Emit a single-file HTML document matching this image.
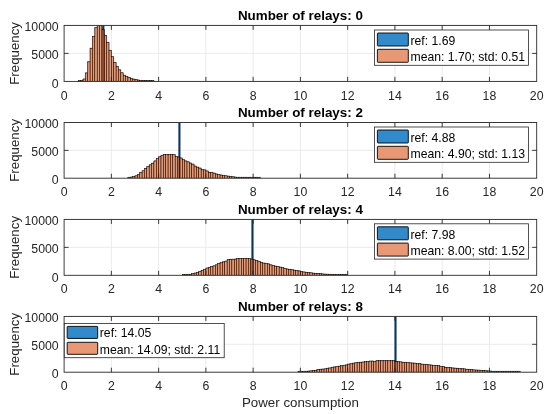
<!DOCTYPE html>
<html lang="en">
<head>
<meta charset="utf-8">
<title>Power consumption histograms</title>
<style>
html,body{margin:0;padding:0;background:#fff;}
body{width:550px;height:414px;overflow:hidden;}
svg{display:block;}
text{font-family:"Liberation Sans",Arial,Helvetica,sans-serif;fill:#262626;}
.tk{font-size:12.3px;}
.ti{font-size:13.4px;font-weight:bold;fill:#000;}
.lb{font-size:13.3px;}
.lg{font-size:12.2px;fill:#000;}
</style>
</head>
<body>
<svg width="550" height="414" viewBox="0 0 550 414">
<defs><filter id="bl" x="0" y="0" width="550" height="414" filterUnits="userSpaceOnUse"><feGaussianBlur stdDeviation="0.4"/></filter></defs>
<rect x="0" y="0" width="550" height="414" fill="#fff"/>
<g filter="url(#bl)">
<g>
<clipPath id="c0"><rect x="64.1" y="25.4" width="472.6" height="56"/></clipPath>
<path d="M111.36 25.4V81.4M158.62 25.4V81.4M205.88 25.4V81.4M253.14 25.4V81.4M300.4 25.4V81.4M347.66 25.4V81.4M394.92 25.4V81.4M442.18 25.4V81.4M489.44 25.4V81.4M64.1 53.4H536.7" stroke="#ebebeb" stroke-width="1" fill="none"/>
<g clip-path="url(#c0)">
<rect x="102.28" y="25.4" width="2.1" height="56" fill="#0b3561"/>
<g fill="#d95319" fill-opacity="0.6" stroke="#000" stroke-width="0.45">
<rect x="78.28" y="80.5" width="2.36" height="0.9"/>
<rect x="80.64" y="80.5" width="2.36" height="0.9"/>
<rect x="83" y="78.99" width="2.36" height="2.41"/>
<rect x="85.37" y="72.89" width="2.36" height="8.51"/>
<rect x="87.73" y="61.8" width="2.36" height="19.6"/>
<rect x="90.09" y="48.19" width="2.36" height="33.21"/>
<rect x="92.46" y="36.43" width="2.36" height="44.97"/>
<rect x="94.82" y="27.64" width="2.36" height="53.76"/>
<rect x="97.18" y="23.16" width="2.36" height="58.24"/>
<rect x="99.55" y="23.16" width="2.36" height="58.24"/>
<rect x="101.91" y="29.49" width="2.36" height="51.91"/>
<rect x="104.27" y="35.37" width="2.36" height="46.03"/>
<rect x="106.63" y="42.31" width="2.36" height="39.09"/>
<rect x="109" y="50.32" width="2.36" height="31.08"/>
<rect x="111.36" y="56.7" width="2.36" height="24.7"/>
<rect x="113.72" y="62.36" width="2.36" height="19.04"/>
<rect x="116.09" y="66.45" width="2.36" height="14.95"/>
<rect x="118.45" y="69.86" width="2.36" height="11.54"/>
<rect x="120.81" y="72.78" width="2.36" height="8.62"/>
<rect x="123.17" y="75.18" width="2.36" height="6.22"/>
<rect x="125.54" y="76.36" width="2.36" height="5.04"/>
<rect x="127.9" y="77.48" width="2.36" height="3.92"/>
<rect x="130.26" y="78.38" width="2.36" height="3.02"/>
<rect x="132.63" y="79.1" width="2.36" height="2.3"/>
<rect x="134.99" y="79.66" width="2.36" height="1.74"/>
<rect x="137.35" y="80.06" width="2.36" height="1.34"/>
<rect x="139.72" y="80.39" width="2.36" height="1.01"/>
<rect x="142.08" y="80.5" width="2.36" height="0.9"/>
<rect x="144.44" y="80.5" width="2.36" height="0.9"/>
<rect x="146.81" y="80.5" width="2.36" height="0.9"/>
<rect x="149.17" y="80.5" width="2.36" height="0.9"/>
<rect x="151.53" y="80.5" width="2.36" height="0.9"/>
</g>
<path d="M78.28 81.4V80.5H80.64V80.5H83V78.99H85.37V72.89H87.73V61.8H90.09V48.19H92.46V36.43H94.82V27.64H97.18V23.16H99.55V23.16H101.91V29.49H104.27V35.37H106.63V42.31H109V50.32H111.36V56.7H113.72V62.36H116.09V66.45H118.45V69.86H120.81V72.78H123.17V75.18H125.54V76.36H127.9V77.48H130.26V78.38H132.63V79.1H134.99V79.66H137.35V80.06H139.72V80.39H142.08V80.5H144.44V80.5H146.81V80.5H149.17V80.5H151.53V80.5H153.89V81.4" fill="none" stroke="#000" stroke-width="0.5" stroke-opacity="0.7"/>
</g>
<path d="M111.36 81.4v-4.5M111.36 25.4v4.5M158.62 81.4v-4.5M158.62 25.4v4.5M205.88 81.4v-4.5M205.88 25.4v4.5M253.14 81.4v-4.5M253.14 25.4v4.5M300.4 81.4v-4.5M300.4 25.4v4.5M347.66 81.4v-4.5M347.66 25.4v4.5M394.92 81.4v-4.5M394.92 25.4v4.5M442.18 81.4v-4.5M442.18 25.4v4.5M489.44 81.4v-4.5M489.44 25.4v4.5M64.1 53.4h4.5M536.7 53.4h-4.5" stroke="#262626" stroke-width="0.9" fill="none"/>
<rect x="64.1" y="25.4" width="472.6" height="56" fill="none" stroke="#262626" stroke-width="0.9"/>
<text class="tk" x="64.1" y="99.5" text-anchor="middle">0</text>
<text class="tk" x="111.36" y="99.5" text-anchor="middle">2</text>
<text class="tk" x="158.62" y="99.5" text-anchor="middle">4</text>
<text class="tk" x="205.88" y="99.5" text-anchor="middle">6</text>
<text class="tk" x="253.14" y="99.5" text-anchor="middle">8</text>
<text class="tk" x="300.4" y="99.5" text-anchor="middle">10</text>
<text class="tk" x="347.66" y="99.5" text-anchor="middle">12</text>
<text class="tk" x="394.92" y="99.5" text-anchor="middle">14</text>
<text class="tk" x="442.18" y="99.5" text-anchor="middle">16</text>
<text class="tk" x="489.44" y="99.5" text-anchor="middle">18</text>
<text class="tk" x="536.7" y="99.5" text-anchor="middle">20</text>
<text class="tk" x="58.7" y="31" text-anchor="end">10000</text>
<text class="tk" x="58.7" y="59.2" text-anchor="end">5000</text>
<text class="tk" x="58.7" y="87.6" text-anchor="end">0</text>
<text class="ti" x="300.4" y="19.5" text-anchor="middle">Number of relays: 0</text>
<text class="lb" transform="translate(19.3 53.4) rotate(-90)" text-anchor="middle">Frequency</text>
<rect x="374.5" y="30" width="153.9" height="35.3" fill="#fff" stroke="#262626" stroke-width="0.8"/>
<rect x="377.4" y="33" width="30.9" height="13" rx="0.6" fill="#308aca" stroke="#000" stroke-width="0.9"/>
<rect x="377.4" y="49.3" width="30.9" height="13" rx="0.6" fill="#e89875" stroke="#000" stroke-width="0.9"/>
<text class="lg" x="410.5" y="44.9">ref: 1.69</text>
<text class="lg" x="410.5" y="61">mean: 1.70; std: 0.51</text>
</g>
<g>
<clipPath id="c1"><rect x="64.1" y="122.5" width="472.6" height="55.7"/></clipPath>
<path d="M111.36 122.5V178.2M158.62 122.5V178.2M205.88 122.5V178.2M253.14 122.5V178.2M300.4 122.5V178.2M347.66 122.5V178.2M394.92 122.5V178.2M442.18 122.5V178.2M489.44 122.5V178.2M64.1 150.35H536.7" stroke="#ebebeb" stroke-width="1" fill="none"/>
<g clip-path="url(#c1)">
<rect x="178.36" y="122.5" width="2.1" height="55.7" fill="#0b3561"/>
<g fill="#d95319" fill-opacity="0.6" stroke="#000" stroke-width="0.45">
<rect x="127.9" y="177.3" width="2.36" height="0.9"/>
<rect x="130.26" y="177.09" width="2.36" height="1.11"/>
<rect x="132.63" y="176.36" width="2.36" height="1.84"/>
<rect x="134.99" y="175.8" width="2.36" height="2.4"/>
<rect x="137.35" y="174.64" width="2.36" height="3.56"/>
<rect x="139.72" y="172.63" width="2.36" height="5.57"/>
<rect x="142.08" y="170.79" width="2.36" height="7.41"/>
<rect x="144.44" y="168.51" width="2.36" height="9.69"/>
<rect x="146.81" y="166.67" width="2.36" height="11.53"/>
<rect x="149.17" y="164.83" width="2.36" height="13.37"/>
<rect x="151.53" y="163.16" width="2.36" height="15.04"/>
<rect x="153.89" y="160.93" width="2.36" height="17.27"/>
<rect x="156.26" y="158.7" width="2.36" height="19.49"/>
<rect x="158.62" y="156.81" width="2.36" height="21.39"/>
<rect x="160.98" y="155.25" width="2.36" height="22.95"/>
<rect x="163.35" y="154.58" width="2.36" height="23.62"/>
<rect x="165.71" y="154.53" width="2.36" height="23.67"/>
<rect x="168.07" y="154.53" width="2.36" height="23.67"/>
<rect x="170.44" y="154.53" width="2.36" height="23.67"/>
<rect x="172.8" y="154.64" width="2.36" height="23.56"/>
<rect x="175.16" y="156.48" width="2.36" height="21.72"/>
<rect x="177.52" y="157.03" width="2.36" height="21.17"/>
<rect x="179.89" y="157.98" width="2.36" height="20.22"/>
<rect x="182.25" y="159.65" width="2.36" height="18.55"/>
<rect x="184.61" y="160.93" width="2.36" height="17.27"/>
<rect x="186.98" y="161.82" width="2.36" height="16.38"/>
<rect x="189.34" y="162.99" width="2.36" height="15.21"/>
<rect x="191.7" y="164.11" width="2.36" height="14.09"/>
<rect x="194.06" y="166.06" width="2.36" height="12.14"/>
<rect x="196.43" y="167.12" width="2.36" height="11.08"/>
<rect x="198.79" y="168.06" width="2.36" height="10.14"/>
<rect x="201.15" y="169.68" width="2.36" height="8.52"/>
<rect x="203.52" y="169.84" width="2.36" height="8.35"/>
<rect x="205.88" y="170.96" width="2.36" height="7.24"/>
<rect x="208.24" y="172.3" width="2.36" height="5.9"/>
<rect x="210.61" y="172.46" width="2.36" height="5.74"/>
<rect x="212.97" y="173.08" width="2.36" height="5.12"/>
<rect x="215.33" y="173.91" width="2.36" height="4.29"/>
<rect x="217.7" y="174.47" width="2.36" height="3.73"/>
<rect x="220.06" y="175.03" width="2.36" height="3.17"/>
<rect x="222.42" y="175.36" width="2.36" height="2.84"/>
<rect x="224.78" y="175.8" width="2.36" height="2.4"/>
<rect x="227.15" y="176.11" width="2.36" height="2.09"/>
<rect x="229.51" y="176.45" width="2.36" height="1.75"/>
<rect x="231.87" y="176.78" width="2.36" height="1.42"/>
<rect x="234.24" y="177.09" width="2.36" height="1.11"/>
<rect x="236.6" y="177.25" width="2.36" height="0.95"/>
<rect x="238.96" y="177.3" width="2.36" height="0.9"/>
<rect x="241.33" y="177.3" width="2.36" height="0.9"/>
<rect x="243.69" y="177.3" width="2.36" height="0.9"/>
<rect x="246.05" y="177.3" width="2.36" height="0.9"/>
<rect x="248.41" y="177.3" width="2.36" height="0.9"/>
<rect x="250.78" y="177.3" width="2.36" height="0.9"/>
<rect x="253.14" y="177.3" width="2.36" height="0.9"/>
<rect x="255.5" y="177.3" width="2.36" height="0.9"/>
<rect x="257.87" y="177.3" width="2.36" height="0.9"/>
</g>
<path d="M127.9 178.2V177.3H130.26V177.09H132.63V176.36H134.99V175.8H137.35V174.64H139.72V172.63H142.08V170.79H144.44V168.51H146.81V166.67H149.17V164.83H151.53V163.16H153.89V160.93H156.26V158.7H158.62V156.81H160.98V155.25H163.35V154.58H165.71V154.53H168.07V154.53H170.44V154.53H172.8V154.64H175.16V156.48H177.52V157.03H179.89V157.98H182.25V159.65H184.61V160.93H186.98V161.82H189.34V162.99H191.7V164.11H194.06V166.06H196.43V167.12H198.79V168.06H201.15V169.68H203.52V169.84H205.88V170.96H208.24V172.3H210.61V172.46H212.97V173.08H215.33V173.91H217.7V174.47H220.06V175.03H222.42V175.36H224.78V175.8H227.15V176.11H229.51V176.45H231.87V176.78H234.24V177.09H236.6V177.25H238.96V177.3H241.33V177.3H243.69V177.3H246.05V177.3H248.41V177.3H250.78V177.3H253.14V177.3H255.5V177.3H257.87V177.3H260.23V178.2" fill="none" stroke="#000" stroke-width="0.5" stroke-opacity="0.7"/>
</g>
<path d="M111.36 178.2v-4.5M111.36 122.5v4.5M158.62 178.2v-4.5M158.62 122.5v4.5M205.88 178.2v-4.5M205.88 122.5v4.5M253.14 178.2v-4.5M253.14 122.5v4.5M300.4 178.2v-4.5M300.4 122.5v4.5M347.66 178.2v-4.5M347.66 122.5v4.5M394.92 178.2v-4.5M394.92 122.5v4.5M442.18 178.2v-4.5M442.18 122.5v4.5M489.44 178.2v-4.5M489.44 122.5v4.5M64.1 150.35h4.5M536.7 150.35h-4.5" stroke="#262626" stroke-width="0.9" fill="none"/>
<rect x="64.1" y="122.5" width="472.6" height="55.7" fill="none" stroke="#262626" stroke-width="0.9"/>
<text class="tk" x="64.1" y="196" text-anchor="middle">0</text>
<text class="tk" x="111.36" y="196" text-anchor="middle">2</text>
<text class="tk" x="158.62" y="196" text-anchor="middle">4</text>
<text class="tk" x="205.88" y="196" text-anchor="middle">6</text>
<text class="tk" x="253.14" y="196" text-anchor="middle">8</text>
<text class="tk" x="300.4" y="196" text-anchor="middle">10</text>
<text class="tk" x="347.66" y="196" text-anchor="middle">12</text>
<text class="tk" x="394.92" y="196" text-anchor="middle">14</text>
<text class="tk" x="442.18" y="196" text-anchor="middle">16</text>
<text class="tk" x="489.44" y="196" text-anchor="middle">18</text>
<text class="tk" x="536.7" y="196" text-anchor="middle">20</text>
<text class="tk" x="58.7" y="128.1" text-anchor="end">10000</text>
<text class="tk" x="58.7" y="156.15" text-anchor="end">5000</text>
<text class="tk" x="58.7" y="184.4" text-anchor="end">0</text>
<text class="ti" x="300.4" y="116.6" text-anchor="middle">Number of relays: 2</text>
<text class="lb" transform="translate(19.3 150.35) rotate(-90)" text-anchor="middle">Frequency</text>
<rect x="374.5" y="127" width="153.9" height="35.3" fill="#fff" stroke="#262626" stroke-width="0.8"/>
<rect x="377.4" y="130" width="30.9" height="13" rx="0.6" fill="#308aca" stroke="#000" stroke-width="0.9"/>
<rect x="377.4" y="146.3" width="30.9" height="13" rx="0.6" fill="#e89875" stroke="#000" stroke-width="0.9"/>
<text class="lg" x="410.5" y="141.9">ref: 4.88</text>
<text class="lg" x="410.5" y="158">mean: 4.90; std: 1.13</text>
</g>
<g>
<clipPath id="c2"><rect x="64.1" y="219.4" width="472.6" height="55.9"/></clipPath>
<path d="M111.36 219.4V275.3M158.62 219.4V275.3M205.88 219.4V275.3M253.14 219.4V275.3M300.4 219.4V275.3M347.66 219.4V275.3M394.92 219.4V275.3M442.18 219.4V275.3M489.44 219.4V275.3M64.1 247.35H536.7" stroke="#ebebeb" stroke-width="1" fill="none"/>
<g clip-path="url(#c2)">
<rect x="251.42" y="219.4" width="2.1" height="55.9" fill="#0b3561"/>
<g fill="#d95319" fill-opacity="0.6" stroke="#000" stroke-width="0.45">
<rect x="182.25" y="274.4" width="2.36" height="0.9"/>
<rect x="184.61" y="274.4" width="2.36" height="0.9"/>
<rect x="186.98" y="274.4" width="2.36" height="0.9"/>
<rect x="189.34" y="274.35" width="2.36" height="0.95"/>
<rect x="191.7" y="273.68" width="2.36" height="1.62"/>
<rect x="194.06" y="273.06" width="2.36" height="2.24"/>
<rect x="196.43" y="272.39" width="2.36" height="2.91"/>
<rect x="198.79" y="271.39" width="2.36" height="3.91"/>
<rect x="201.15" y="270.38" width="2.36" height="4.92"/>
<rect x="203.52" y="269.54" width="2.36" height="5.76"/>
<rect x="205.88" y="268.03" width="2.36" height="7.27"/>
<rect x="208.24" y="267.36" width="2.36" height="7.94"/>
<rect x="210.61" y="266.64" width="2.36" height="8.66"/>
<rect x="212.97" y="265.85" width="2.36" height="9.45"/>
<rect x="215.33" y="264.85" width="2.36" height="10.45"/>
<rect x="217.7" y="263.62" width="2.36" height="11.68"/>
<rect x="220.06" y="262.61" width="2.36" height="12.69"/>
<rect x="222.42" y="261.83" width="2.36" height="13.47"/>
<rect x="224.78" y="261.1" width="2.36" height="14.2"/>
<rect x="227.15" y="259.65" width="2.36" height="15.65"/>
<rect x="229.51" y="259.31" width="2.36" height="15.99"/>
<rect x="231.87" y="259.2" width="2.36" height="16.1"/>
<rect x="234.24" y="259.09" width="2.36" height="16.21"/>
<rect x="236.6" y="258.53" width="2.36" height="16.77"/>
<rect x="238.96" y="258.53" width="2.36" height="16.77"/>
<rect x="241.33" y="258.53" width="2.36" height="16.77"/>
<rect x="243.69" y="258.53" width="2.36" height="16.77"/>
<rect x="246.05" y="258.53" width="2.36" height="16.77"/>
<rect x="248.41" y="258.53" width="2.36" height="16.77"/>
<rect x="250.78" y="259.09" width="2.36" height="16.21"/>
<rect x="253.14" y="259.82" width="2.36" height="15.48"/>
<rect x="255.5" y="260.54" width="2.36" height="14.76"/>
<rect x="257.87" y="261.32" width="2.36" height="13.98"/>
<rect x="260.23" y="262.33" width="2.36" height="12.97"/>
<rect x="262.59" y="263.06" width="2.36" height="12.24"/>
<rect x="264.96" y="263.34" width="2.36" height="11.96"/>
<rect x="267.32" y="263.84" width="2.36" height="11.46"/>
<rect x="269.68" y="264.85" width="2.36" height="10.45"/>
<rect x="272.04" y="265.52" width="2.36" height="9.78"/>
<rect x="274.41" y="266.08" width="2.36" height="9.22"/>
<rect x="276.77" y="266.58" width="2.36" height="8.72"/>
<rect x="279.13" y="267.08" width="2.36" height="8.22"/>
<rect x="281.5" y="267.7" width="2.36" height="7.6"/>
<rect x="283.86" y="268.42" width="2.36" height="6.88"/>
<rect x="286.22" y="268.98" width="2.36" height="6.32"/>
<rect x="288.59" y="269.32" width="2.36" height="5.98"/>
<rect x="290.95" y="269.77" width="2.36" height="5.53"/>
<rect x="293.31" y="270.16" width="2.36" height="5.14"/>
<rect x="295.67" y="270.6" width="2.36" height="4.7"/>
<rect x="298.04" y="270.91" width="2.36" height="4.39"/>
<rect x="300.4" y="271.39" width="2.36" height="3.91"/>
<rect x="302.76" y="271.95" width="2.36" height="3.35"/>
<rect x="305.13" y="272.23" width="2.36" height="3.07"/>
<rect x="307.49" y="272.5" width="2.36" height="2.8"/>
<rect x="309.85" y="272.81" width="2.36" height="2.49"/>
<rect x="312.22" y="273.12" width="2.36" height="2.18"/>
<rect x="314.58" y="273.4" width="2.36" height="1.9"/>
<rect x="316.94" y="273.54" width="2.36" height="1.76"/>
<rect x="319.3" y="273.68" width="2.36" height="1.62"/>
<rect x="321.67" y="273.96" width="2.36" height="1.34"/>
<rect x="324.03" y="274.1" width="2.36" height="1.2"/>
<rect x="326.39" y="274.21" width="2.36" height="1.09"/>
<rect x="328.76" y="274.29" width="2.36" height="1.01"/>
<rect x="331.12" y="274.4" width="2.36" height="0.9"/>
<rect x="333.48" y="274.4" width="2.36" height="0.9"/>
<rect x="335.85" y="274.4" width="2.36" height="0.9"/>
<rect x="338.21" y="274.4" width="2.36" height="0.9"/>
<rect x="340.57" y="274.4" width="2.36" height="0.9"/>
<rect x="342.93" y="274.4" width="2.36" height="0.9"/>
<rect x="345.3" y="274.4" width="2.36" height="0.9"/>
</g>
<path d="M182.25 275.3V274.4H184.61V274.4H186.98V274.4H189.34V274.35H191.7V273.68H194.06V273.06H196.43V272.39H198.79V271.39H201.15V270.38H203.52V269.54H205.88V268.03H208.24V267.36H210.61V266.64H212.97V265.85H215.33V264.85H217.7V263.62H220.06V262.61H222.42V261.83H224.78V261.1H227.15V259.65H229.51V259.31H231.87V259.2H234.24V259.09H236.6V258.53H238.96V258.53H241.33V258.53H243.69V258.53H246.05V258.53H248.41V258.53H250.78V259.09H253.14V259.82H255.5V260.54H257.87V261.32H260.23V262.33H262.59V263.06H264.96V263.34H267.32V263.84H269.68V264.85H272.04V265.52H274.41V266.08H276.77V266.58H279.13V267.08H281.5V267.7H283.86V268.42H286.22V268.98H288.59V269.32H290.95V269.77H293.31V270.16H295.67V270.6H298.04V270.91H300.4V271.39H302.76V271.95H305.13V272.23H307.49V272.5H309.85V272.81H312.22V273.12H314.58V273.4H316.94V273.54H319.3V273.68H321.67V273.96H324.03V274.1H326.39V274.21H328.76V274.29H331.12V274.4H333.48V274.4H335.85V274.4H338.21V274.4H340.57V274.4H342.93V274.4H345.3V274.4H347.66V275.3" fill="none" stroke="#000" stroke-width="0.5" stroke-opacity="0.7"/>
</g>
<path d="M111.36 275.3v-4.5M111.36 219.4v4.5M158.62 275.3v-4.5M158.62 219.4v4.5M205.88 275.3v-4.5M205.88 219.4v4.5M253.14 275.3v-4.5M253.14 219.4v4.5M300.4 275.3v-4.5M300.4 219.4v4.5M347.66 275.3v-4.5M347.66 219.4v4.5M394.92 275.3v-4.5M394.92 219.4v4.5M442.18 275.3v-4.5M442.18 219.4v4.5M489.44 275.3v-4.5M489.44 219.4v4.5M64.1 247.35h4.5M536.7 247.35h-4.5" stroke="#262626" stroke-width="0.9" fill="none"/>
<rect x="64.1" y="219.4" width="472.6" height="55.9" fill="none" stroke="#262626" stroke-width="0.9"/>
<text class="tk" x="64.1" y="293.1" text-anchor="middle">0</text>
<text class="tk" x="111.36" y="293.1" text-anchor="middle">2</text>
<text class="tk" x="158.62" y="293.1" text-anchor="middle">4</text>
<text class="tk" x="205.88" y="293.1" text-anchor="middle">6</text>
<text class="tk" x="253.14" y="293.1" text-anchor="middle">8</text>
<text class="tk" x="300.4" y="293.1" text-anchor="middle">10</text>
<text class="tk" x="347.66" y="293.1" text-anchor="middle">12</text>
<text class="tk" x="394.92" y="293.1" text-anchor="middle">14</text>
<text class="tk" x="442.18" y="293.1" text-anchor="middle">16</text>
<text class="tk" x="489.44" y="293.1" text-anchor="middle">18</text>
<text class="tk" x="536.7" y="293.1" text-anchor="middle">20</text>
<text class="tk" x="58.7" y="225" text-anchor="end">10000</text>
<text class="tk" x="58.7" y="253.15" text-anchor="end">5000</text>
<text class="tk" x="58.7" y="281.5" text-anchor="end">0</text>
<text class="ti" x="300.4" y="213.5" text-anchor="middle">Number of relays: 4</text>
<text class="lb" transform="translate(19.3 247.35) rotate(-90)" text-anchor="middle">Frequency</text>
<rect x="374.5" y="223.8" width="153.9" height="35.3" fill="#fff" stroke="#262626" stroke-width="0.8"/>
<rect x="377.4" y="226.8" width="30.9" height="13" rx="0.6" fill="#308aca" stroke="#000" stroke-width="0.9"/>
<rect x="377.4" y="243.1" width="30.9" height="13" rx="0.6" fill="#e89875" stroke="#000" stroke-width="0.9"/>
<text class="lg" x="410.5" y="238.7">ref: 7.98</text>
<text class="lg" x="410.5" y="254.8">mean: 8.00; std: 1.52</text>
</g>
<g>
<clipPath id="c3"><rect x="64.1" y="316.4" width="472.6" height="55.8"/></clipPath>
<path d="M111.36 316.4V372.2M158.62 316.4V372.2M205.88 316.4V372.2M253.14 316.4V372.2M300.4 316.4V372.2M347.66 316.4V372.2M394.92 316.4V372.2M442.18 316.4V372.2M489.44 316.4V372.2M64.1 344.3H536.7" stroke="#ebebeb" stroke-width="1" fill="none"/>
<g clip-path="url(#c3)">
<rect x="394.45" y="316.4" width="2.1" height="55.8" fill="#0b3561"/>
<g fill="#d95319" fill-opacity="0.6" stroke="#000" stroke-width="0.45">
<rect x="298.04" y="371.3" width="2.36" height="0.9"/>
<rect x="300.4" y="371.3" width="2.36" height="0.9"/>
<rect x="302.76" y="371.3" width="2.36" height="0.9"/>
<rect x="305.13" y="371.3" width="2.36" height="0.9"/>
<rect x="307.49" y="371.08" width="2.36" height="1.12"/>
<rect x="309.85" y="370.86" width="2.36" height="1.34"/>
<rect x="312.22" y="370.53" width="2.36" height="1.67"/>
<rect x="314.58" y="370.3" width="2.36" height="1.9"/>
<rect x="316.94" y="369.58" width="2.36" height="2.62"/>
<rect x="319.3" y="369.3" width="2.36" height="2.9"/>
<rect x="321.67" y="369.08" width="2.36" height="3.12"/>
<rect x="324.03" y="368.85" width="2.36" height="3.35"/>
<rect x="326.39" y="368.29" width="2.36" height="3.91"/>
<rect x="328.76" y="367.96" width="2.36" height="4.24"/>
<rect x="331.12" y="367.29" width="2.36" height="4.91"/>
<rect x="333.48" y="366.95" width="2.36" height="5.25"/>
<rect x="335.85" y="366.45" width="2.36" height="5.75"/>
<rect x="338.21" y="366.17" width="2.36" height="6.03"/>
<rect x="340.57" y="365.67" width="2.36" height="6.53"/>
<rect x="342.93" y="365.39" width="2.36" height="6.81"/>
<rect x="345.3" y="364.89" width="2.36" height="7.31"/>
<rect x="347.66" y="364.11" width="2.36" height="8.09"/>
<rect x="350.02" y="363.72" width="2.36" height="8.48"/>
<rect x="352.39" y="363.16" width="2.36" height="9.04"/>
<rect x="354.75" y="362.83" width="2.36" height="9.37"/>
<rect x="357.11" y="362.38" width="2.36" height="9.82"/>
<rect x="359.48" y="362.21" width="2.36" height="9.99"/>
<rect x="361.84" y="362.04" width="2.36" height="10.16"/>
<rect x="364.2" y="361.77" width="2.36" height="10.43"/>
<rect x="366.56" y="361.6" width="2.36" height="10.6"/>
<rect x="368.93" y="361.1" width="2.36" height="11.1"/>
<rect x="371.29" y="361.04" width="2.36" height="11.16"/>
<rect x="373.65" y="361.43" width="2.36" height="10.77"/>
<rect x="376.02" y="360.71" width="2.36" height="11.49"/>
<rect x="378.38" y="360.71" width="2.36" height="11.49"/>
<rect x="380.74" y="360.71" width="2.36" height="11.49"/>
<rect x="383.11" y="360.71" width="2.36" height="11.49"/>
<rect x="385.47" y="360.71" width="2.36" height="11.49"/>
<rect x="387.83" y="360.71" width="2.36" height="11.49"/>
<rect x="390.19" y="360.71" width="2.36" height="11.49"/>
<rect x="392.56" y="360.71" width="2.36" height="11.49"/>
<rect x="394.92" y="361.6" width="2.36" height="10.6"/>
<rect x="397.28" y="361.71" width="2.36" height="10.49"/>
<rect x="399.65" y="361.88" width="2.36" height="10.32"/>
<rect x="402.01" y="362.21" width="2.36" height="9.99"/>
<rect x="404.37" y="362.38" width="2.36" height="9.82"/>
<rect x="406.74" y="362.49" width="2.36" height="9.71"/>
<rect x="409.1" y="362.83" width="2.36" height="9.37"/>
<rect x="411.46" y="362.99" width="2.36" height="9.21"/>
<rect x="413.82" y="363.16" width="2.36" height="9.04"/>
<rect x="416.19" y="363.55" width="2.36" height="8.65"/>
<rect x="418.55" y="363.72" width="2.36" height="8.48"/>
<rect x="420.91" y="364.16" width="2.36" height="8.04"/>
<rect x="423.28" y="364.28" width="2.36" height="7.92"/>
<rect x="425.64" y="364.39" width="2.36" height="7.81"/>
<rect x="428" y="364.83" width="2.36" height="7.37"/>
<rect x="430.37" y="365" width="2.36" height="7.2"/>
<rect x="432.73" y="365.39" width="2.36" height="6.81"/>
<rect x="435.09" y="365.56" width="2.36" height="6.64"/>
<rect x="437.45" y="365.73" width="2.36" height="6.47"/>
<rect x="439.82" y="366.34" width="2.36" height="5.86"/>
<rect x="442.18" y="366.56" width="2.36" height="5.64"/>
<rect x="444.54" y="367.29" width="2.36" height="4.91"/>
<rect x="446.91" y="367.46" width="2.36" height="4.74"/>
<rect x="449.27" y="367.62" width="2.36" height="4.58"/>
<rect x="451.63" y="367.96" width="2.36" height="4.24"/>
<rect x="454" y="368.13" width="2.36" height="4.07"/>
<rect x="456.36" y="368.29" width="2.36" height="3.91"/>
<rect x="458.72" y="368.63" width="2.36" height="3.57"/>
<rect x="461.08" y="368.74" width="2.36" height="3.46"/>
<rect x="463.45" y="368.91" width="2.36" height="3.29"/>
<rect x="465.81" y="369.24" width="2.36" height="2.96"/>
<rect x="468.17" y="369.41" width="2.36" height="2.79"/>
<rect x="470.54" y="369.52" width="2.36" height="2.68"/>
<rect x="472.9" y="369.91" width="2.36" height="2.29"/>
<rect x="475.26" y="370.02" width="2.36" height="2.18"/>
<rect x="477.62" y="370.14" width="2.36" height="2.06"/>
<rect x="479.99" y="370.36" width="2.36" height="1.84"/>
<rect x="482.35" y="370.53" width="2.36" height="1.67"/>
<rect x="484.71" y="370.69" width="2.36" height="1.51"/>
<rect x="487.08" y="370.92" width="2.36" height="1.28"/>
<rect x="489.44" y="371.08" width="2.36" height="1.12"/>
<rect x="491.8" y="371.3" width="2.36" height="0.9"/>
<rect x="494.17" y="371.3" width="2.36" height="0.9"/>
<rect x="496.53" y="371.3" width="2.36" height="0.9"/>
<rect x="498.89" y="371.3" width="2.36" height="0.9"/>
<rect x="501.25" y="371.3" width="2.36" height="0.9"/>
<rect x="503.62" y="371.3" width="2.36" height="0.9"/>
<rect x="505.98" y="371.3" width="2.36" height="0.9"/>
<rect x="508.34" y="371.3" width="2.36" height="0.9"/>
<rect x="510.71" y="371.3" width="2.36" height="0.9"/>
<rect x="513.07" y="371.3" width="2.36" height="0.9"/>
<rect x="515.43" y="371.3" width="2.36" height="0.9"/>
<rect x="517.8" y="371.3" width="2.36" height="0.9"/>
</g>
<path d="M298.04 372.2V371.3H300.4V371.3H302.76V371.3H305.13V371.3H307.49V371.08H309.85V370.86H312.22V370.53H314.58V370.3H316.94V369.58H319.3V369.3H321.67V369.08H324.03V368.85H326.39V368.29H328.76V367.96H331.12V367.29H333.48V366.95H335.85V366.45H338.21V366.17H340.57V365.67H342.93V365.39H345.3V364.89H347.66V364.11H350.02V363.72H352.39V363.16H354.75V362.83H357.11V362.38H359.48V362.21H361.84V362.04H364.2V361.77H366.56V361.6H368.93V361.1H371.29V361.04H373.65V361.43H376.02V360.71H378.38V360.71H380.74V360.71H383.11V360.71H385.47V360.71H387.83V360.71H390.19V360.71H392.56V360.71H394.92V361.6H397.28V361.71H399.65V361.88H402.01V362.21H404.37V362.38H406.74V362.49H409.1V362.83H411.46V362.99H413.82V363.16H416.19V363.55H418.55V363.72H420.91V364.16H423.28V364.28H425.64V364.39H428V364.83H430.37V365H432.73V365.39H435.09V365.56H437.45V365.73H439.82V366.34H442.18V366.56H444.54V367.29H446.91V367.46H449.27V367.62H451.63V367.96H454V368.13H456.36V368.29H458.72V368.63H461.08V368.74H463.45V368.91H465.81V369.24H468.17V369.41H470.54V369.52H472.9V369.91H475.26V370.02H477.62V370.14H479.99V370.36H482.35V370.53H484.71V370.69H487.08V370.92H489.44V371.08H491.8V371.3H494.17V371.3H496.53V371.3H498.89V371.3H501.25V371.3H503.62V371.3H505.98V371.3H508.34V371.3H510.71V371.3H513.07V371.3H515.43V371.3H517.8V371.3H520.16V372.2" fill="none" stroke="#000" stroke-width="0.5" stroke-opacity="0.7"/>
</g>
<path d="M111.36 372.2v-4.5M111.36 316.4v4.5M158.62 372.2v-4.5M158.62 316.4v4.5M205.88 372.2v-4.5M205.88 316.4v4.5M253.14 372.2v-4.5M253.14 316.4v4.5M300.4 372.2v-4.5M300.4 316.4v4.5M347.66 372.2v-4.5M347.66 316.4v4.5M394.92 372.2v-4.5M394.92 316.4v4.5M442.18 372.2v-4.5M442.18 316.4v4.5M489.44 372.2v-4.5M489.44 316.4v4.5M64.1 344.3h4.5M536.7 344.3h-4.5" stroke="#262626" stroke-width="0.9" fill="none"/>
<rect x="64.1" y="316.4" width="472.6" height="55.8" fill="none" stroke="#262626" stroke-width="0.9"/>
<text class="tk" x="64.1" y="389.8" text-anchor="middle">0</text>
<text class="tk" x="111.36" y="389.8" text-anchor="middle">2</text>
<text class="tk" x="158.62" y="389.8" text-anchor="middle">4</text>
<text class="tk" x="205.88" y="389.8" text-anchor="middle">6</text>
<text class="tk" x="253.14" y="389.8" text-anchor="middle">8</text>
<text class="tk" x="300.4" y="389.8" text-anchor="middle">10</text>
<text class="tk" x="347.66" y="389.8" text-anchor="middle">12</text>
<text class="tk" x="394.92" y="389.8" text-anchor="middle">14</text>
<text class="tk" x="442.18" y="389.8" text-anchor="middle">16</text>
<text class="tk" x="489.44" y="389.8" text-anchor="middle">18</text>
<text class="tk" x="536.7" y="389.8" text-anchor="middle">20</text>
<text class="tk" x="58.7" y="322" text-anchor="end">10000</text>
<text class="tk" x="58.7" y="350.1" text-anchor="end">5000</text>
<text class="tk" x="58.7" y="378.4" text-anchor="end">0</text>
<text class="ti" x="300.4" y="310.5" text-anchor="middle">Number of relays: 8</text>
<text class="lb" transform="translate(19.3 344.3) rotate(-90)" text-anchor="middle">Frequency</text>
<rect x="64.3" y="323.5" width="159.9" height="34.2" fill="#fff" stroke="#262626" stroke-width="0.8"/>
<rect x="67.2" y="326.4" width="30.5" height="12" rx="0.6" fill="#308aca" stroke="#000" stroke-width="0.9"/>
<rect x="67.2" y="342.3" width="30.5" height="12" rx="0.6" fill="#e89875" stroke="#000" stroke-width="0.9"/>
<text class="lg" x="99.8" y="337.4">ref: 14.05</text>
<text class="lg" x="99.8" y="353.5">mean: 14.09; std: 2.11</text>
</g>
<text class="lb" x="300.4" y="407.2" text-anchor="middle">Power consumption</text>
</g>
</svg>
</body>
</html>
